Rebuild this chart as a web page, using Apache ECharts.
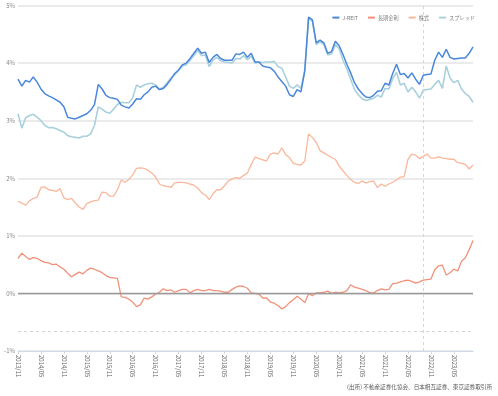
<!DOCTYPE html>
<html>
<head>
<meta charset="utf-8">
<script src="https://cdn.jsdelivr.net/npm/echarts@6/dist/echarts.min.js"></script>
<style>html,body{margin:0;padding:0;background:#fff}#c{width:498px;height:396px}</style>
</head>
<body>
<div id="c"></div>
<script>
// categories: monthly 2013/11 .. 2023/10
const months = [];
for (let y = 2013, m = 11; months.length < 120; ) {
  months.push(y + '/' + (m < 10 ? '0' + m : m));
  m++; if (m > 12) { m = 1; y++; }
}
const seriesNames = ['J-REIT', '長期金利', '株式', 'スプレッド'];
const yTicks = { min: -1, max: 5, interval: 1 };
const markerMonth = '2022/09';
const dashedLevel = -0.65;

const jreit = [3.72,3.60,3.70,3.67,3.76,3.67,3.55,3.47,3.43,3.40,3.36,3.32,3.24,3.06,3.04,3.03,3.06,3.09,3.12,3.18,
3.28,3.63,3.55,3.44,3.40,3.39,3.37,3.27,3.24,3.22,3.29,3.38,3.37,3.45,3.50,3.58,3.60,3.54,3.56,3.63,
3.72,3.82,3.88,3.97,4.00,4.08,4.17,4.26,4.17,4.19,4.01,4.10,4.15,4.08,4.05,4.05,4.05,4.16,4.15,4.19,
4.10,4.17,4.02,4.02,3.95,3.93,3.92,3.86,3.76,3.68,3.60,3.45,3.42,3.54,3.50,3.86,4.80,4.75,4.35,4.40,
4.35,4.17,4.20,4.38,4.30,4.15,3.98,3.83,3.66,3.55,3.47,3.41,3.40,3.44,3.51,3.52,3.65,3.62,3.82,3.98,
3.80,3.82,3.74,3.83,3.72,3.63,3.79,3.80,3.81,4.05,4.19,4.10,4.24,4.10,4.07,4.08,4.09,4.09,4.17,4.28];

const jgb = [0.61,0.70,0.64,0.59,0.62,0.61,0.57,0.54,0.53,0.50,0.51,0.46,0.42,0.35,0.29,0.33,0.37,0.34,0.40,0.44,
0.42,0.39,0.36,0.31,0.28,0.27,0.26,-0.06,-0.07,-0.10,-0.15,-0.23,-0.20,-0.08,-0.10,-0.06,-0.01,0.02,0.08,0.05,
0.06,0.02,0.05,0.07,0.07,0.01,0.05,0.07,0.05,0.05,0.07,0.05,0.05,0.04,0.02,0.02,0.07,0.11,0.13,0.12,
0.09,0.01,0.00,-0.01,-0.08,-0.08,-0.15,-0.17,-0.21,-0.27,-0.23,-0.16,-0.11,-0.05,-0.10,-0.16,0.00,-0.04,0.01,0.01,
0.02,0.04,0.00,0.02,0.01,0.02,0.05,0.15,0.11,0.09,0.07,0.05,0.01,0.01,0.05,0.08,0.06,0.07,0.17,0.18,
0.20,0.22,0.23,0.21,0.18,0.20,0.23,0.24,0.25,0.41,0.48,0.49,0.32,0.36,0.42,0.39,0.56,0.62,0.76,0.92];

const stock = [1.60,1.57,1.53,1.61,1.65,1.67,1.84,1.85,1.80,1.79,1.77,1.82,1.66,1.63,1.65,1.57,1.50,1.46,1.56,1.59,
1.61,1.62,1.76,1.75,1.69,1.69,1.80,1.97,1.93,1.98,2.06,2.17,2.18,2.17,2.14,2.09,2.02,1.90,1.87,1.86,
1.84,1.92,1.93,1.93,1.92,1.90,1.88,1.83,1.75,1.71,1.63,1.73,1.80,1.80,1.87,1.95,1.99,2.01,2.00,2.05,
2.09,2.24,2.37,2.34,2.32,2.30,2.42,2.44,2.42,2.53,2.41,2.36,2.26,2.24,2.23,2.30,2.77,2.71,2.62,2.48,
2.44,2.40,2.36,2.33,2.21,2.13,2.05,1.98,1.93,1.91,1.95,1.92,1.94,1.95,1.84,1.90,1.86,1.90,1.93,1.97,
2.02,2.03,2.33,2.42,2.40,2.34,2.38,2.42,2.35,2.35,2.37,2.35,2.34,2.33,2.33,2.27,2.26,2.24,2.16,2.23];

const spread = [3.12,2.87,3.05,3.09,3.11,3.06,3.00,2.92,2.88,2.88,2.86,2.83,2.80,2.74,2.72,2.71,2.70,2.73,2.73,2.77,
2.92,3.24,3.20,3.15,3.13,3.20,3.28,3.32,3.31,3.31,3.40,3.62,3.58,3.62,3.64,3.65,3.62,3.55,3.58,3.66,
3.74,3.80,3.87,3.95,3.97,4.05,4.13,4.22,4.13,4.14,3.94,4.05,4.10,4.04,4.02,4.01,4.00,4.08,4.07,4.13,
4.06,4.12,4.00,4.02,4.01,4.02,4.02,4.03,3.94,3.91,3.76,3.60,3.56,3.62,3.56,3.88,4.78,4.72,4.32,4.37,
4.32,4.14,4.16,4.32,4.25,4.05,3.90,3.72,3.54,3.45,3.38,3.35,3.37,3.39,3.44,3.41,3.56,3.55,3.73,3.84,
3.62,3.65,3.50,3.58,3.50,3.39,3.53,3.54,3.55,3.63,3.70,3.56,3.95,3.74,3.66,3.70,3.55,3.47,3.42,3.32];

const sourceText = '(出所) 不動産証券化協会、日本相互証券、東京証券取引所';

const colors = ['#4a87dc', '#f2917a', '#f9b79c', '#a9d1dd'];
const chart = echarts.init(document.getElementById('c'), null, { renderer: 'canvas' });
const font = 'Noto Sans CJK JP, Noto Sans, sans-serif';
function line(name, data, color, width, z, extra) {
  return Object.assign({
    name, type: 'line', data, symbol: 'none', z,
    lineStyle: { color, width }, itemStyle: { color }
  }, extra || {});
}
chart.setOption({
  animation: false,
  textStyle: { fontFamily: font },
  color: colors,
  grid: { left: 18, right: 25, top: 5.5, bottom: 45 },
  legend: {
    data: seriesNames, right: 18, top: 10, icon: 'rect', itemWidth: 7, itemHeight: 2, itemGap: 10,
    textStyle: { fontSize: 5.2, color: '#777', fontFamily: font, padding: [0, 0, 0, -2] }
  },
  xAxis: {
    type: 'category', data: months, boundaryGap: false,
    axisLine: { onZero: false, lineStyle: { color: '#cfd9e8', width: 1 } },
    axisTick: { interval: 5, length: 3, lineStyle: { color: '#cfd9e8' } },
    axisLabel: { interval: 5, rotate: -90, fontSize: 6, color: '#666', margin: 4 },
    splitLine: { show: false }
  },
  yAxis: {
    type: 'value', min: yTicks.min, max: yTicks.max, interval: yTicks.interval,
    axisLine: { show: false }, axisTick: { show: false },
    axisLabel: { formatter: '{value}%', fontSize: 6, color: '#888', margin: 3 },
    splitLine: { lineStyle: { color: '#e4e4e4', width: 1.5 } }
  },
  series: [
    line('スプレッド', spread, colors[3], 1.6, 2),
    line('株式', stock, colors[2], 1.3, 3),
    line('長期金利', jgb, colors[1], 1.3, 4, {
      markLine: {
        silent: true, symbol: 'none', label: { show: false },
        data: [
          { yAxis: 0, lineStyle: { color: '#999', width: 1.3, type: 'solid' } },
          { yAxis: dashedLevel, lineStyle: { color: '#d6d6d6', width: 1, type: [3, 3] } },
          { xAxis: markerMonth, lineStyle: { color: '#d6d6d6', width: 1, type: [3, 3] } }
        ]
      }
    }),
    line('J-REIT', jreit, colors[0], 1.5, 5)
  ],
  graphic: [{
    type: 'text', right: 6, top: 384,
    style: { text: sourceText, fontSize: 5.6, fill: '#555', fontFamily: font }
  }]
});
</script>
</body>
</html>
